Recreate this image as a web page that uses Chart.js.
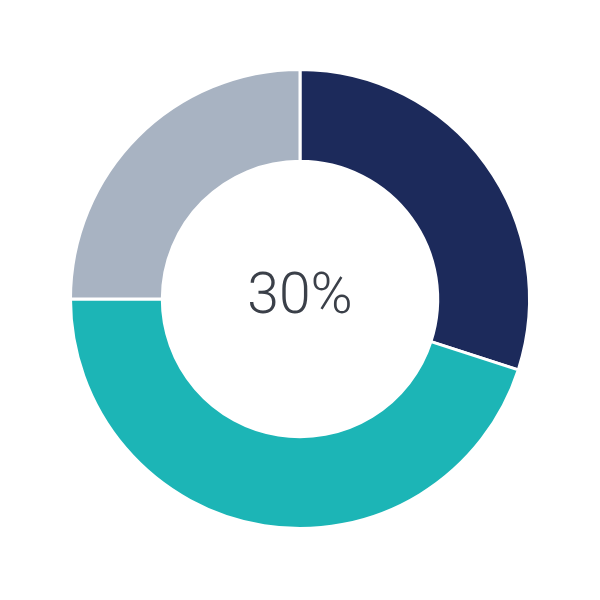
<!DOCTYPE html>
<html>
<head>
<meta charset="utf-8">
<script src="https://cdn.jsdelivr.net/npm/chart.js@4/dist/chart.umd.min.js"></script>
<style>
    html, body { margin: 0; padding: 0; background: #ffffff; }
    #wrap { width: 600px; height: 600px; position: relative; }
</style>
</head>
<body>
<div id="wrap"><canvas id="donut"></canvas></div>
<script>
// Slices go clockwise from 12 o'clock
const segmentLabels = ['Navy', 'Teal', 'Grey'];
const segmentValues = [30, 45, 25];
const segmentColors = ['#1c2a5b', '#1cb5b6', '#a8b3c2'];
const centerLabel = '30%';

// Draws the big percentage in the hole
const centerTextPlugin = {
    id: 'centerText',
    afterDraw(chart) {
        const meta = chart.getDatasetMeta(0);
        if (!meta.data.length) return;
        const arc = meta.data[0];
        const ctx = chart.ctx;
        ctx.save();
        ctx.font = '300 57px "Roboto", "Liberation Sans", sans-serif';
        ctx.fillStyle = '#3b4049';
        ctx.textAlign = 'center';
        ctx.textBaseline = 'middle';
        ctx.fillText(centerLabel, arc.x, arc.y);
        ctx.restore();
    }
};

const chart = new Chart(document.getElementById('donut'), {
    type: 'doughnut',
    data: {
        labels: segmentLabels,
        datasets: [{
            data: segmentValues,
            backgroundColor: segmentColors,
            borderColor: '#ffffff',
            borderWidth: 3
        }]
    },
    options: {
        responsive: true,
        maintainAspectRatio: false,
        animation: false,
        cutout: '60%',
        layout: {
            padding: { top: 68, bottom: 70, left: 68, right: 68 }
        },
        plugins: {
            legend: { display: false },
            tooltip: { enabled: false }
        }
    },
    plugins: [centerTextPlugin]
});
</script>
</body>
</html>
